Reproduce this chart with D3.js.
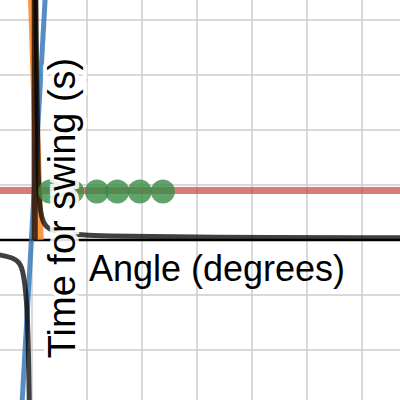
<!DOCTYPE html>
<html><head><meta charset="utf-8">
<script src="https://cdn.jsdelivr.net/npm/d3@7"></script>
<style>body{margin:0;background:#fff}</style>
</head><body>
<svg width="400" height="400"></svg>
<script>
// data in graph units (one grid square = 1)
let gridX = [-1, 0, 1, 2, 3, 4, 5, 6];
let gridY = [-3, -2, -1, 0, 1, 2, 3, 4];
let redLevel = 0.9;
let pointsX = [0.33, 0.73, 1.18, 1.55, 1.96, 2.38];
let pointsY = [0.88, 0.88, 0.88, 0.88, 0.88, 0.88];
let blackRight = [[0.07, 4.4], [0.09, 2.55], [0.11, 1.09], [0.15, 0.45], [0.24, 0.22], [0.51, 0.11], [1.24, 0.07], [3.05, 0.05], [6.7, 0.04]];
let blackLeft = [[-0.6, -0.27], [-0.31, -0.33], [-0.18, -0.45], [-0.11, -0.91], [-0.07, -1.64], [-0.05, -2.95]];
let orange = [[0.14, 0], [-0.0, 4.4]];
let blue = [[-0.18, -2.95], [0.24, 4.4]];
let brown = [[0.05, 0], [0.05, 4.4]];

let svg = d3.select('svg');
let x = d3.scaleLinear().domain([-32 / 55, 368 / 55]).range([0, 400]);
let y = d3.scaleLinear().domain([-160 / 55, 240 / 55]).range([400, 0]);

svg.selectAll('.gx').data(gridX).enter().append('line')
    .attr('x1', d => x(d)).attr('x2', d => x(d)).attr('y1', 0).attr('y2', 400)
    .attr('stroke', '#ccc').attr('stroke-width', 1.5);
svg.selectAll('.gy').data(gridY).enter().append('line')
    .attr('y1', d => y(d)).attr('y2', d => y(d)).attr('x1', 0).attr('x2', 400)
    .attr('stroke', '#ccc').attr('stroke-width', 1.5);

// axis
svg.append('line').attr('x1', 0).attr('x2', 400).attr('y1', y(0)).attr('y2', y(0))
    .attr('stroke', '#000').attr('stroke-width', 2.5);

let line = d3.line().x(d => x(d[0])).y(d => y(d[1]));

svg.append('line').attr('x1', 0).attr('x2', 400).attr('y1', y(redLevel)).attr('y2', y(redLevel))
    .attr('stroke', '#c74440').attr('stroke-opacity', 0.7).attr('stroke-width', 7);

svg.append('path').attr('d', line(orange)).attr('fill', 'none')
    .attr('stroke', '#fa7e19').attr('stroke-opacity', 0.8).attr('stroke-width', 8);
svg.append('path').attr('d', line(blue)).attr('fill', 'none')
    .attr('stroke', '#2d70b3').attr('stroke-opacity', 0.8).attr('stroke-width', 5);
svg.append('path').attr('d', line(brown)).attr('fill', 'none')
    .attr('stroke', '#3a1d0c').attr('stroke-opacity', 0.9).attr('stroke-width', 6);

let lineX = d3.line().curve(d3.curveBasis).x(d => x(d[0])).y(d => y(d[1]));
[blackRight, blackLeft].forEach(pts => {
  svg.append('path').attr('d', lineX(pts)).attr('fill', 'none')
      .attr('stroke', '#000').attr('stroke-opacity', 0.75).attr('stroke-width', 5);
});

svg.selectAll('.pt').data(pointsX).enter().append('circle')
    .attr('cx', d => x(d)).attr('cy', (d, i) => y(pointsY[i])).attr('r', 12)
    .attr('fill', '#388c46').attr('fill-opacity', 0.8);

// labels
svg.append('text').attr('x', 217).attr('y', 281).attr('text-anchor', 'middle')
    .attr('font-family', 'Liberation Sans, Arial, sans-serif').attr('font-size', 36)
    .text('Angle (degrees)');
svg.append('text').attr('transform', 'translate(75,208) rotate(-90)').attr('text-anchor', 'middle')
    .attr('font-family', 'Liberation Sans, Arial, sans-serif').attr('font-size', 38)
    .attr('stroke', '#fff').attr('stroke-width', 8).attr('stroke-opacity', 0.9).attr('paint-order', 'stroke')
    .text('Time for swing (s)');
</script>
</body></html>
